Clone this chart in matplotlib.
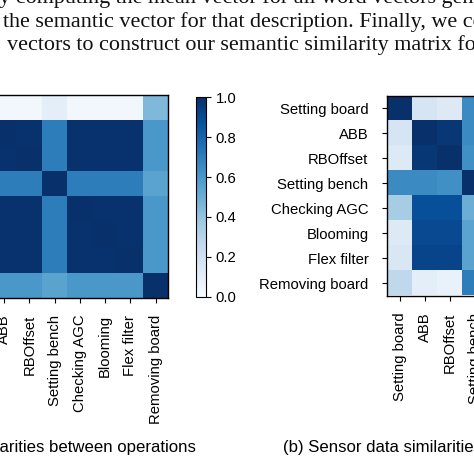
import matplotlib
matplotlib.use("Agg")
import matplotlib.pyplot as plt
import numpy as np

operations = ["Setting board", "ABB", "RBOffset", "Setting bench",
              "Checking AGC", "Blooming", "Flex filter", "Removing board"]

semantic_sim = [
    [1.00, 0.03, 0.03, 0.10, 0.03, 0.03, 0.03, 0.45],
    [0.03, 1.00, 0.99, 0.70, 0.99, 0.99, 0.99, 0.60],
    [0.03, 0.99, 1.00, 0.70, 0.99, 0.99, 0.99, 0.60],
    [0.10, 0.70, 0.70, 1.00, 0.70, 0.70, 0.70, 0.55],
    [0.03, 0.99, 0.99, 0.70, 1.00, 0.99, 0.99, 0.60],
    [0.03, 0.99, 0.99, 0.70, 0.99, 1.00, 0.99, 0.60],
    [0.03, 0.99, 0.99, 0.70, 0.99, 0.99, 1.00, 0.60],
    [0.45, 0.60, 0.60, 0.55, 0.60, 0.60, 0.60, 1.00],
]

sensor_sim = [
    [1.00, 0.17, 0.13, 0.65, 0.35, 0.13, 0.15, 0.27],
    [0.17, 1.00, 0.97, 0.65, 0.88, 0.90, 0.92, 0.10],
    [0.13, 0.97, 1.00, 0.63, 0.88, 0.90, 0.92, 0.07],
    [0.65, 0.65, 0.63, 1.00, 0.50, 0.55, 0.55, 0.70],
    [0.35, 0.88, 0.88, 0.50, 1.00, 0.90, 0.90, 0.15],
    [0.13, 0.90, 0.90, 0.55, 0.90, 1.00, 0.95, 0.10],
    [0.15, 0.92, 0.92, 0.55, 0.90, 0.95, 1.00, 0.10],
    [0.27, 0.10, 0.07, 0.70, 0.15, 0.10, 0.10, 1.00],
]

cbar_ticks = [0.0, 0.2, 0.4, 0.6, 0.8, 1.0]

caption_a = "(a) Semantic similarities between operations"
caption_b = "(b) Sensor data similarities between operations"
body_lines = [
    "by computing the mean vector for all word vectors generated",
    "the semantic vector for that description. Finally, we compute",
    "vectors to construct our semantic similarity matrix for",
]

W = H = 474.0
fig = plt.figure(figsize=(4.74, 4.74), dpi=100)
fig.patch.set_facecolor("white")

SANS = ["Liberation Sans", "DejaVu Sans"]
SERIF = ["Liberation Serif", "DejaVu Serif"]
TFS = 10.7


def box(x0, y0, x1, y1):
    return [x0 / W, 1 - y1 / H, (x1 - x0) / W, (y1 - y0) / H]


def heat(ax, data):
    im = ax.imshow(np.array(data), cmap="Blues", vmin=0, vmax=1,
                   interpolation="nearest", aspect="auto")
    ax.set_xticks(range(len(operations)))
    ax.set_yticks(range(len(operations)))
    ax.set_xticklabels(operations, rotation=90, fontsize=TFS, family=SANS)
    ax.set_yticklabels(operations, fontsize=TFS, family=SANS)
    ax.tick_params(axis="x", pad=9)
    ax.tick_params(axis="y", pad=10)
    for s in ax.spines.values():
        s.set_linewidth(1.0)
    return im


ax1 = fig.add_axes(box(-33.6, 95, 168.3, 297.5))
im = heat(ax1, semantic_sim)

ax2 = fig.add_axes(box(387.3, 96, 587.3, 295.5))
heat(ax2, sensor_sim)

cax = fig.add_axes(box(195.7, 97.3, 205.7, 296.7))
cb = fig.colorbar(im, cax=cax, ticks=cbar_ticks)
cb.ax.set_yticklabels([f"{t:.1f}" for t in cbar_ticks], fontsize=TFS, family=SANS)
cb.outline.set_linewidth(0.8)

fig.text(196 / W, 1 - 452 / H, caption_a, ha="right", va="baseline",
         fontsize=12.1, family=SANS)
fig.text(283 / W, 1 - 452 / H, caption_b, ha="left", va="baseline",
         fontsize=12.1, family=SANS)

BFS = 15.9
fig.text(-12 / W, 1 - 3.5 / H, body_lines[0], ha="left", va="baseline",
         fontsize=BFS, family=SERIF, color="#111111")
fig.text(3 / W, 1 - 26.7 / H, body_lines[1], ha="left", va="baseline",
         fontsize=BFS, family=SERIF, color="#111111")
fig.text(7 / W, 1 - 50 / H, body_lines[2], ha="left", va="baseline",
         fontsize=BFS, family=SERIF, color="#111111")

fig.savefig("out.png", dpi=100)
